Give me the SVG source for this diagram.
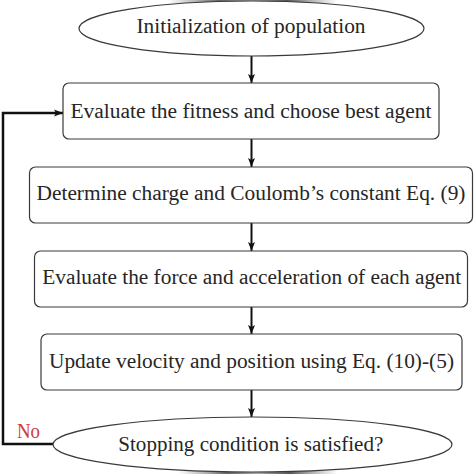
<svg xmlns="http://www.w3.org/2000/svg" width="474" height="474" viewBox="0 0 474 474">
<style>
.shape{fill:#fff;stroke:#3a3a3a;stroke-width:1.2}
.lbl{font-family:"Liberation Serif","DejaVu Serif",serif;font-size:20px;fill:#262626;text-anchor:middle}
.conn{fill:none;stroke:#111;stroke-width:2}
.loop{fill:none;stroke:#111;stroke-width:2.5}
</style>
<defs>
<marker id="ah" markerUnits="userSpaceOnUse" markerWidth="10" markerHeight="8" refX="9" refY="4" orient="auto">
<path d="M0,0.5 L9,4 L0,7.5 L2,4 Z" fill="#111"/>
</marker>
<linearGradient id="band" x1="0" x2="1" y1="0" y2="0">
<stop offset="0" stop-color="#888" stop-opacity="0"/>
<stop offset="0.3" stop-color="#666"/>
<stop offset="0.5" stop-color="#aaa"/>
<stop offset="0.7" stop-color="#555"/>
<stop offset="1" stop-color="#888" stop-opacity="0"/>
</linearGradient>
</defs>
<rect width="474" height="474" fill="#fff"/>
<rect x="168" y="0" width="170" height="3" fill="url(#band)"/>
<rect x="178" y="471" width="160" height="3" fill="url(#band)"/>
<g id="connectors">
<line class="conn" x1="251.5" y1="56" x2="251.5" y2="83" marker-end="url(#ah)"/>
<line class="conn" x1="251.5" y1="139" x2="251.5" y2="167" marker-end="url(#ah)"/>
<line class="conn" x1="251.5" y1="223" x2="251.5" y2="251" marker-end="url(#ah)"/>
<line class="conn" x1="251.5" y1="307" x2="251.5" y2="334" marker-end="url(#ah)"/>
<line class="conn" x1="251.5" y1="390" x2="251.5" y2="417" marker-end="url(#ah)"/>
<path class="loop" d="M53,444 H3 V113 H63" marker-end="url(#ah)"/>
<text x="28.5" y="438" style="font-family:'Liberation Serif','DejaVu Serif',serif;font-size:20px;fill:#d03a3a;text-anchor:middle" textLength="23" lengthAdjust="spacingAndGlyphs">No</text>
</g>
<g id="init">
<ellipse class="shape" cx="251.5" cy="28.5" rx="172.5" ry="27.5"/>
<text class="lbl" x="251" y="33" textLength="229" lengthAdjust="spacingAndGlyphs">Initialization of population</text>
</g>
<g id="fitness">
<rect class="shape" x="63" y="83" width="376" height="56" rx="6"/>
<text class="lbl" x="251" y="117.5" textLength="361" lengthAdjust="spacingAndGlyphs">Evaluate the fitness and choose best agent</text>
</g>
<g id="charge">
<rect class="shape" x="29.5" y="167" width="443" height="56" rx="6"/>
<text class="lbl" x="251" y="200" textLength="429" lengthAdjust="spacingAndGlyphs">Determine charge and Coulomb’s constant Eq. (9)</text>
</g>
<g id="force">
<rect class="shape" x="34.5" y="251" width="433" height="56" rx="6"/>
<text class="lbl" x="251.7" y="283.5" textLength="419" lengthAdjust="spacingAndGlyphs">Evaluate the force and acceleration of each agent</text>
</g>
<g id="update">
<rect class="shape" x="41" y="334" width="421" height="56" rx="6"/>
<text class="lbl" x="251.5" y="367.5" textLength="405" lengthAdjust="spacingAndGlyphs">Update velocity and position using Eq. (10)-(5)</text>
</g>
<g id="stop">
<ellipse class="shape" cx="252.5" cy="444.5" rx="199.5" ry="27.5"/>
<text class="lbl" x="250.8" y="451" textLength="265" lengthAdjust="spacingAndGlyphs">Stopping condition is satisfied?</text>
</g>
</svg>
